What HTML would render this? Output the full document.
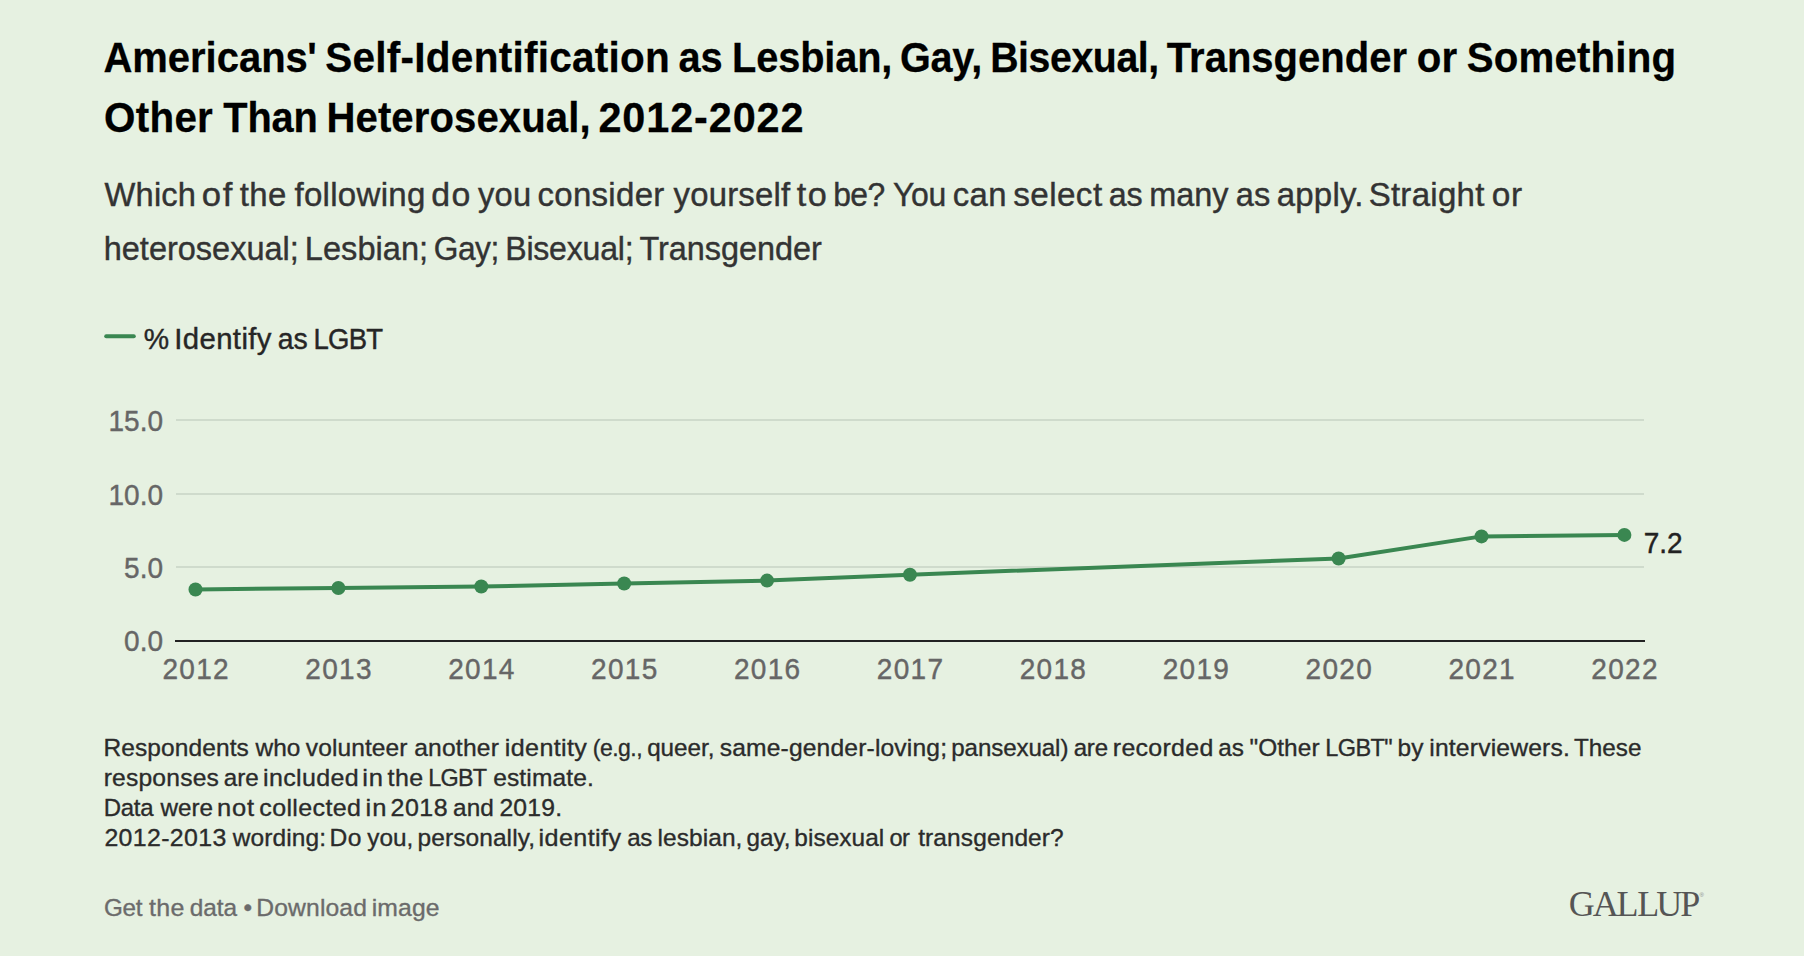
<!DOCTYPE html>
<html lang="en">
<head>
<meta charset="utf-8">
<title>Americans' Self-Identification as LGBT, 2012-2022</title>
<style>
html,body{margin:0;padding:0}
body{width:1804px;height:956px;background:#e6f1e1;font-family:"Liberation Sans",Arial,Helvetica,sans-serif;overflow:hidden;position:relative}
.l{position:absolute;left:0;margin:0;padding:0;white-space:nowrap;width:1804px;font-weight:400;font-size:0}
.l span{display:inline-block;vertical-align:top;white-space:nowrap}
.title{line-height:52px;height:52px}
.title span{font-weight:700;font-size:40px;line-height:52px;height:52px;color:#000;-webkit-text-stroke:0.25px currentColor;transform-origin:0 40px}
.sub{line-height:44px;height:44px}
.sub span{font-size:32.5px;line-height:44px;height:44px;color:#333;-webkit-text-stroke:0.4px currentColor;transform-origin:0 33px}
.leg{line-height:40px;height:40px}
.leg span{font-size:28.5px;line-height:40px;height:40px;color:#262626;-webkit-text-stroke:0.4px currentColor;transform-origin:0 30px}
.note{line-height:35px;height:35px}
.note span{font-size:24.3px;line-height:35px;height:35px;color:#2b2b2b;-webkit-text-stroke:0.35px currentColor;transform-origin:0 26px}
.foot{line-height:35px;height:35px}
.foot span{font-size:24.5px;line-height:35px;height:35px;color:#6b6b6b;-webkit-text-stroke:0.35px currentColor;transform-origin:0 26px}
.logo{position:absolute;left:0;top:880px;width:1804px;height:48px;font-family:"Liberation Serif","Times New Roman",serif;font-size:36px;line-height:48px;color:#555;white-space:nowrap}
.logo span{display:inline-block;vertical-align:top;height:48px}
.rg{font-family:"Liberation Sans",sans-serif;font-size:6px;line-height:8px;position:absolute;left:1699.4px;top:10.5px;color:#8a8a8a;vertical-align:baseline}
svg{position:absolute;left:0;top:0}
svg text{font-family:"Liberation Sans",Arial,Helvetica,sans-serif}
</style>
</head>
<body>
<h1 class="l title" style="top:32px"><span style="margin-left:103px;width:204px;letter-spacing:-0.01px;transform:translateX(0.40px) scale(0.9998,1.05)">Americans</span><span style="width:18px;transform:translateX(0.35px) scale(1.0000,1.05)">'</span> <span style="width:353px;letter-spacing:0.25px;transform:translateX(0.19px) scale(1.0135,1.05)">Self-Identification</span> <span style="width:54px;letter-spacing:-0.20px;transform:translateX(0.60px) scale(0.9952,1.05)">as</span> <span style="width:168px;letter-spacing:-0.13px;transform:translateX(0.01px) scale(0.9941,1.05)">Lesbian,</span> <span style="width:90px;letter-spacing:-0.26px;transform:translateX(0.01px) scale(0.9903,1.05)">Gay,</span> <span style="width:176px;letter-spacing:-0.41px;transform:translateX(0.15px) scale(0.9812,1.05)">Bisexual,</span> <span style="width:250px;transform:translateX(0.85px) scale(1.0001,1.05)">Transgender</span> <span style="width:50px;letter-spacing:0.25px;transform:translateX(0.69px) scale(1.0066,1.05)">or</span> <span style="width:10px;letter-spacing:0.16px;transform:translateX(0.79px) scale(1.0064,1.05)">Something</span></h1>
<div class="l title" style="top:92px"><span style="margin-left:104px;width:119px;letter-spacing:0.25px;transform:translateX(0.09px) scale(1.0098,1.05)">Other</span> <span style="width:103px;letter-spacing:-0.17px;transform:translateX(0.25px) scale(0.9946,1.05)">Than</span> <span style="width:272px;letter-spacing:0.07px;transform:translateX(0.49px) scale(1.0034,1.05)">Heterosexual,</span> <span style="width:10px;letter-spacing:0.83px;transform:translateX(0.40px) scale(1.0366,1.05)">2012-2022</span></div>
<p class="l sub" style="top:173px"><span style="margin-left:104px;width:97px;letter-spacing:0.14px;transform:translateX(0.60px) scale(1.0062,1.03)">Which</span> <span style="width:38px;letter-spacing:1.64px;transform:translateX(0.77px) scale(1.0673,1.03)">of</span> <span style="width:55px;letter-spacing:0.31px;transform:translateX(0.85px) scale(1.0143,1.03)">the</span> <span style="width:137px;letter-spacing:0.27px;transform:translateX(0.45px) scale(1.0175,1.03)">following</span> <span style="width:47px;letter-spacing:1.37px;transform:translateX(0.30px) scale(1.0422,1.03)">do</span> <span style="width:59px;letter-spacing:0.16px;transform:translateX(0.05px) scale(1.0064,1.03)">you</span> <span style="width:136px;letter-spacing:0.28px;transform:translateX(0.43px) scale(1.0167,1.03)">consider</span> <span style="width:123px;letter-spacing:0.20px;transform:translateX(0.55px) scale(1.0125,1.03)">yourself</span> <span style="width:37px;letter-spacing:1.31px;transform:translateX(0.74px) scale(1.0534,1.03)">to</span> <span style="width:60px;letter-spacing:-0.52px;transform:translateX(0.14px) scale(0.9800,1.03)">be?</span> <span style="width:59px;letter-spacing:-0.42px;transform:translateX(0.11px) scale(0.9842,1.03)">You</span> <span style="width:61px;letter-spacing:0.28px;transform:translateX(0.84px) scale(1.0117,1.03)">can</span> <span style="width:95px;letter-spacing:0.39px;transform:translateX(0.23px) scale(1.0238,1.03)">select</span> <span style="width:41px;letter-spacing:-0.25px;transform:translateX(0.76px) scale(0.9922,1.03)">as</span> <span style="width:86px;letter-spacing:-0.06px;transform:translateX(0.30px) scale(0.9977,1.03)">many</span> <span style="width:41px;letter-spacing:0.10px;transform:translateX(0.85px) scale(1.0031,1.03)">as</span> <span style="width:92px;letter-spacing:0.24px;transform:translateX(0.63px) scale(1.0153,1.03)">apply.</span> <span style="width:123px;letter-spacing:0.26px;transform:translateX(0.63px) scale(1.0165,1.03)">Straight</span> <span style="width:10px;letter-spacing:0.75px;transform:translateX(0.71px) scale(1.0284,1.03)">or</span></p>
<p class="l sub" style="top:227px"><span style="margin-left:103px;width:201px;transform:translateX(0.70px) scale(1.0000,1.03)">heterosexual;</span> <span style="width:129px;letter-spacing:0.03px;transform:translateX(0.80px) scale(1.0019,1.03)">Lesbian;</span> <span style="width:72px;letter-spacing:-0.53px;transform:translateX(0.84px) scale(0.9760,1.03)">Gay;</span> <span style="width:134px;letter-spacing:-0.22px;transform:translateX(0.23px) scale(0.9862,1.03)">Bisexual;</span> <span style="width:10px;letter-spacing:-0.04px;transform:translateX(0.50px) scale(0.9977,1.03)">Transgender</span></p>
<div class="l leg" style="top:319px"><span style="margin-left:143px;width:31px;transform:translateX(0.65px) scale(1.0000,1.03)">%</span> <span style="width:103px;letter-spacing:0.37px;transform:translateX(0.23px) scale(1.0296,1.03)">Identify</span> <span style="width:36px;letter-spacing:-0.03px;transform:translateX(0.80px) scale(0.9991,1.03)">as</span> <span style="width:10px;letter-spacing:-0.84px;transform:translateX(0.53px) scale(0.9662,1.03)">LGBT</span></div>
<svg width="1804" height="956" viewBox="0 0 1804 956">
<line x1="106.2" y1="336.2" x2="133.8" y2="336.2" stroke="#3a8751" stroke-width="4" stroke-linecap="round"/>
<rect x="176" y="419" width="1468" height="2" fill="#cfdbcc"/>
<rect x="176" y="493" width="1468" height="2" fill="#cfdbcc"/>
<rect x="176" y="566" width="1468" height="2" fill="#cfdbcc"/>
<rect x="175" y="640" width="1470" height="2" fill="#222"/>
<text transform="translate(163 431.4) scale(1 1.06)" text-anchor="end" font-size="28" fill="#666" stroke="#666" stroke-width="0.4">15.0</text>
<text transform="translate(163 505.4) scale(1 1.06)" text-anchor="end" font-size="28" fill="#666" stroke="#666" stroke-width="0.4">10.0</text>
<text transform="translate(163 578.4) scale(1 1.06)" text-anchor="end" font-size="28" fill="#666" stroke="#666" stroke-width="0.4">5.0</text>
<text transform="translate(163 651.4) scale(1 1.06)" text-anchor="end" font-size="28" fill="#666" stroke="#666" stroke-width="0.4">0.0</text>
<text transform="translate(196.15 679.0) scale(1 1.06)" text-anchor="middle" letter-spacing="1.3" font-size="28" fill="#666" stroke="#666" stroke-width="0.4">2012</text>
<text transform="translate(339.04 679.0) scale(1 1.06)" text-anchor="middle" letter-spacing="1.3" font-size="28" fill="#666" stroke="#666" stroke-width="0.4">2013</text>
<text transform="translate(481.93 679.0) scale(1 1.06)" text-anchor="middle" letter-spacing="1.3" font-size="28" fill="#666" stroke="#666" stroke-width="0.4">2014</text>
<text transform="translate(624.82 679.0) scale(1 1.06)" text-anchor="middle" letter-spacing="1.3" font-size="28" fill="#666" stroke="#666" stroke-width="0.4">2015</text>
<text transform="translate(767.71 679.0) scale(1 1.06)" text-anchor="middle" letter-spacing="1.3" font-size="28" fill="#666" stroke="#666" stroke-width="0.4">2016</text>
<text transform="translate(910.60 679.0) scale(1 1.06)" text-anchor="middle" letter-spacing="1.3" font-size="28" fill="#666" stroke="#666" stroke-width="0.4">2017</text>
<text transform="translate(1053.49 679.0) scale(1 1.06)" text-anchor="middle" letter-spacing="1.3" font-size="28" fill="#666" stroke="#666" stroke-width="0.4">2018</text>
<text transform="translate(1196.38 679.0) scale(1 1.06)" text-anchor="middle" letter-spacing="1.3" font-size="28" fill="#666" stroke="#666" stroke-width="0.4">2019</text>
<text transform="translate(1339.27 679.0) scale(1 1.06)" text-anchor="middle" letter-spacing="1.3" font-size="28" fill="#666" stroke="#666" stroke-width="0.4">2020</text>
<text transform="translate(1482.16 679.0) scale(1 1.06)" text-anchor="middle" letter-spacing="1.3" font-size="28" fill="#666" stroke="#666" stroke-width="0.4">2021</text>
<text transform="translate(1625.05 679.0) scale(1 1.06)" text-anchor="middle" letter-spacing="1.3" font-size="28" fill="#666" stroke="#666" stroke-width="0.4">2022</text>
<polyline points="195.50,589.43 338.39,587.96 481.28,586.49 624.17,583.54 767.06,580.59 909.95,574.70 1338.62,558.49 1481.51,536.39 1624.40,534.92" fill="none" stroke="#3a8751" stroke-width="4" stroke-linejoin="round" stroke-linecap="round"/>
<circle cx="195.50" cy="589.43" r="7" fill="#3a8751"/>
<circle cx="338.39" cy="587.96" r="7" fill="#3a8751"/>
<circle cx="481.28" cy="586.49" r="7" fill="#3a8751"/>
<circle cx="624.17" cy="583.54" r="7" fill="#3a8751"/>
<circle cx="767.06" cy="580.59" r="7" fill="#3a8751"/>
<circle cx="909.95" cy="574.70" r="7" fill="#3a8751"/>
<circle cx="1338.62" cy="558.49" r="7" fill="#3a8751"/>
<circle cx="1481.51" cy="536.39" r="7" fill="#3a8751"/>
<circle cx="1624.40" cy="534.92" r="7" fill="#3a8751"/>
<text transform="translate(1643.7 553) scale(1 1.06)" font-size="28" fill="#222" stroke="#222" stroke-width="0.4">7.2</text>
</svg>
<div class="l note" style="top:730px"><span style="margin-left:103px;width:152px;letter-spacing:0.11px;transform:translateX(0.44px) scale(1.0076,1.0)">Respondents</span> <span style="width:50px;letter-spacing:0.10px;transform:translateX(0.45px) scale(1.0045,1.0)">who</span> <span style="width:109px;letter-spacing:0.11px;transform:translateX(0.80px) scale(1.0088,1.0)">volunteer</span> <span style="width:90px;letter-spacing:0.18px;transform:translateX(0.24px) scale(1.0135,1.0)">another</span> <span style="width:88px;letter-spacing:0.35px;transform:translateX(0.85px) scale(1.0331,1.0)">identity</span> <span style="width:55px;letter-spacing:-0.57px;transform:translateX(0.81px) scale(0.9481,1.0)">(e.g.,</span> <span style="width:72px;letter-spacing:-0.03px;transform:translateX(0.15px) scale(0.9981,1.0)">queer,</span> <span style="width:232px;letter-spacing:0.16px;transform:translateX(0.69px) scale(1.0132,1.0)">same-gender-loving;</span> <span style="width:122px;letter-spacing:-0.10px;transform:translateX(0.31px) scale(0.9927,1.0)">pansexual)</span> <span style="width:39px;letter-spacing:-0.18px;transform:translateX(0.66px) scale(0.9896,1.0)">are</span> <span style="width:106px;letter-spacing:0.32px;transform:translateX(0.76px) scale(1.0247,1.0)">recorded</span> <span style="width:31px;letter-spacing:0.02px;transform:translateX(0.25px) scale(1.0010,1.0)">as</span> <span style="width:76px;letter-spacing:0.07px;transform:translateX(0.45px) scale(1.0051,1.0)">"Other</span> <span style="width:72px;letter-spacing:-0.58px;transform:translateX(0.21px) scale(0.9676,1.0)">LGBT"</span> <span style="width:32px;letter-spacing:0.17px;transform:translateX(0.59px) scale(1.0072,1.0)">by</span> <span style="width:145px;letter-spacing:0.17px;transform:translateX(0.28px) scale(1.0153,1.0)">interviewers.</span> <span style="width:10px;letter-spacing:-0.02px;transform:translateX(0.05px) scale(0.9989,1.0)">These</span></div>
<div class="l note" style="top:760px"><span style="margin-left:103px;width:120px;letter-spacing:0.19px;transform:translateX(0.68px) scale(1.0139,1.0)">responses</span> <span style="width:39px;letter-spacing:-0.05px;transform:translateX(0.85px) scale(0.9970,1.0)">are</span> <span style="width:100px;letter-spacing:0.36px;transform:translateX(0.96px) scale(1.0297,1.0)">included</span> <span style="width:25px;letter-spacing:0.81px;transform:translateX(0.32px) scale(1.0531,1.0)">in</span> <span style="width:41px;letter-spacing:0.46px;transform:translateX(0.54px) scale(1.0292,1.0)">the</span> <span style="width:65px;letter-spacing:-0.77px;transform:translateX(0.21px) scale(0.9637,1.0)">LGBT</span> <span style="width:10px;letter-spacing:0.13px;transform:translateX(0.14px) scale(1.0112,1.0)">estimate.</span></div>
<div class="l note" style="top:790px"><span style="margin-left:103px;width:57px;letter-spacing:-0.25px;transform:translateX(0.68px) scale(0.9854,1.0)">Data</span> <span style="width:57px;letter-spacing:-0.05px;transform:translateX(0.55px) scale(0.9971,1.0)">were</span> <span style="width:42px;letter-spacing:0.77px;transform:translateX(0.02px) scale(1.0504,1.0)">not</span> <span style="width:106px;letter-spacing:0.34px;transform:translateX(0.33px) scale(1.0296,1.0)">collected</span> <span style="width:25px;letter-spacing:0.81px;transform:translateX(0.62px) scale(1.0531,1.0)">in</span> <span style="width:63px;letter-spacing:0.48px;transform:translateX(0.57px) scale(1.0282,1.0)">2018</span> <span style="width:46px;letter-spacing:0.04px;transform:translateX(0.05px) scale(1.0020,1.0)">and</span> <span style="width:10px;letter-spacing:0.24px;transform:translateX(0.38px) scale(1.0169,1.0)">2019.</span></div>
<div class="l note" style="top:820px"><span style="margin-left:104px;width:128px;letter-spacing:0.34px;transform:translateX(0.38px) scale(1.0247,1.0)">2012-2013</span> <span style="width:97px;letter-spacing:0.11px;transform:translateX(0.65px) scale(1.0083,1.0)">wording:</span> <span style="width:38px;letter-spacing:0.35px;transform:translateX(0.53px) scale(1.0123,1.0)">Do</span> <span style="width:50px;letter-spacing:0.02px;transform:translateX(0.30px) scale(1.0011,1.0)">you,</span> <span style="width:121px;letter-spacing:0.09px;transform:translateX(0.49px) scale(1.0078,1.0)">personally,</span> <span style="width:89px;letter-spacing:0.38px;transform:translateX(0.55px) scale(1.0364,1.0)">identify</span> <span style="width:30px;letter-spacing:-0.23px;transform:translateX(0.16px) scale(0.9907,1.0)">as</span> <span style="width:89px;letter-spacing:0.08px;transform:translateX(0.49px) scale(1.0072,1.0)">lesbian,</span> <span style="width:48px;letter-spacing:-0.03px;transform:translateX(0.55px) scale(0.9982,1.0)">gay,</span> <span style="width:95px;letter-spacing:0.06px;transform:translateX(0.29px) scale(1.0049,1.0)">bisexual</span> <span style="width:29px;letter-spacing:-0.62px;transform:translateX(0.47px) scale(0.9707,1.0)">or</span> <span style="width:10px;letter-spacing:0.11px;transform:translateX(0.15px) scale(1.0083,1.0)">transgender?</span></div>
<div class="l foot" style="top:890px"><span style="margin-left:103px;width:45px;letter-spacing:-0.20px;transform:translateX(0.91px) scale(0.9896,1.0)">Get</span> <span style="width:41px;letter-spacing:0.34px;transform:translateX(0.94px) scale(1.0212,1.0)">the</span> <span style="width:54px;letter-spacing:-0.08px;transform:translateX(0.75px) scale(0.9947,1.0)">data</span> <span style="width:13px;transform:translateX(0.45px) scale(1.0000,1.0)">•</span> <span style="width:115px;letter-spacing:0.11px;transform:translateX(0.34px) scale(1.0073,1.0)">Download</span> <span style="width:10px;letter-spacing:0.14px;transform:translateX(0.69px) scale(1.0089,1.0)">image</span></div>
<div class="logo"><span style="width:24px;margin-left:1568px;transform:translateX(0.72px)">G</span><span style="width:24px;transform:translateX(0.75px)">A</span><span style="width:21px;transform:translateX(0.58px)">L</span><span style="width:19px;transform:translateX(0.32px)">L</span><span style="width:24px;transform:translateX(0.30px)">U</span><span style="width:20px;transform:translateX(0.15px)">P</span><sup class="rg">®</sup></div>
</body>
</html>
